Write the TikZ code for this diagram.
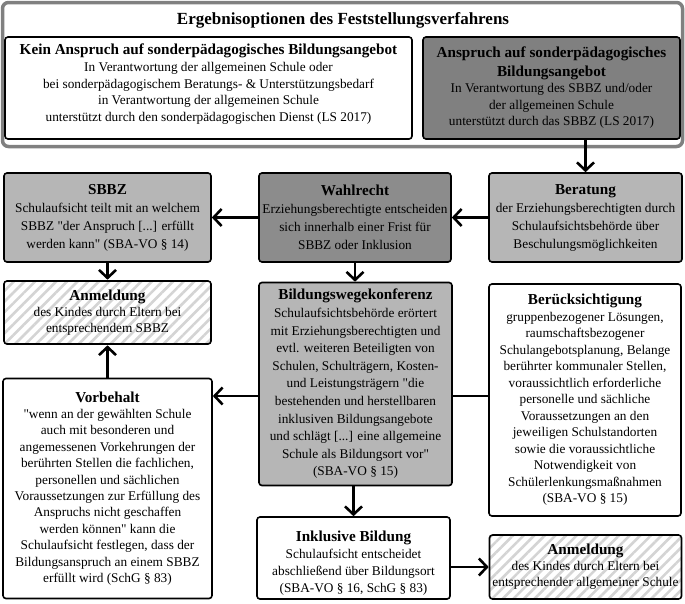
\documentclass[tikz,border=0pt]{standalone}
\usepackage{fontspec}
\setmainfont{Liberation Serif}
\usetikzlibrary{arrows.meta,patterns.meta}
\definecolor{dkfill}{RGB}{128,128,128}
\definecolor{mdfill}{RGB}{140,140,140}
\definecolor{ltfill}{RGB}{182,182,182}
\definecolor{frmcol}{RGB}{128,128,128}
\definecolor{hatchcol}{RGB}{212,212,212}
\newcommand\hdg[1]{{\fontsize{15.2}{18}\selectfont\bfseries #1}}
\newcommand\q{\textquotedbl}
\begin{document}
\begin{tikzpicture}[x=1pt,y=-1pt,
  box/.style={draw=black, line width=1.6pt, rounded corners=3pt, align=center,
    inner sep=1pt, minimum width=#1},
  sp/.style={font=\fontsize{13.3}{#1}\selectfont},
  hatched/.style={preaction={fill=white},
    pattern={Lines[angle=45,distance=7.5pt,line width=2.6pt]}, pattern color=hatchcol},
  arr/.style={line width=2.6pt, -{Straight Barb[length=8pt,width=17pt,line width=2.6pt]}},
  conn/.style={line width=2.6pt}
]
\useasboundingbox (0,0) rectangle (685,603);
% outer frame
\node[draw=frmcol, line width=3.5pt, rounded corners=6pt, minimum width=680pt,
  minimum height=144pt, inner sep=0pt] (frame) at (342.5,74.5) {};
\node[font=\fontsize{17}{20}\selectfont\bfseries] (title) at (343,20)
  {Ergebnisoptionen des Feststellungsverfahrens};
% top boxes
\node[box=407pt, minimum height=102pt, fill=white, sp=16.5] (topL) at (208.5,88)
  {\hdg{Kein Anspruch auf sonderpädagogisches Bildungsangebot}\\[1pt]
   In Verantwortung der allgemeinen Schule oder\\
   bei sonderpädagogischem Beratungs- \& Unterstützungsbedarf\\
   in Verantwortung der allgemeinen Schule\\
   unterstützt durch den sonderpädagogischen Dienst (LS 2017)\rule[-11pt]{0pt}{1pt}};
\node[box=257pt, minimum height=102pt, fill=dkfill, sp=16.5] (topR) at (551.5,88)
  {\hdg{Anspruch auf sonderpädagogisches}\\[2pt]
   \hdg{Bildungsangebot}\\
   In Verantwortung des SBBZ und/oder\\
   der allgemeinen Schule\\
   unterstützt durch das SBBZ (LS 2017)};
% row 2
\node[box=207pt, minimum height=89pt, fill=ltfill, sp=18] (sbbz) at (107.5,217.5)
  {\hdg{SBBZ}\\
   Schulaufsicht teilt mit an welchem\\
   SBBZ \q der Anspruch [...] erfüllt\\
   werden kann\q{} (SBA-VO § 14)};
\node[box=192pt, minimum height=89pt, fill=mdfill, sp=18] (wahl) at (355,217.5)
  {\hdg{Wahlrecht}\\
   Erziehungsberechtigte entscheiden\\
   sich innerhalb einer Frist für\\
   SBBZ oder Inklusion};
\node[box=193pt, minimum height=89pt, fill=ltfill, sp=18] (berat) at (585.5,217.5)
  {\hdg{Beratung}\\
   der Erziehungsberechtigten durch\\
   Schulaufsichtsbehörde über\\
   Beschulungsmöglichkeiten};
% left column
\node[box=207pt, minimum height=63pt, hatched, sp=16] (anmL) at (107.5,312.5)
  {\hdg{Anmeldung}\\
   des Kindes durch Eltern bei\\
   entsprechendem SBBZ};
\node[box=209pt, minimum height=220pt, fill=white, sp=16.4] (vorb) at (107.5,488.5)
  {\hdg{Vorbehalt}\\
   \q wenn an der gewählten Schule\\
   auch mit besonderen und\\
   angemessenen Vorkehrungen der\\
   berührten Stellen die fachlichen,\\
   personellen und sächlichen\\
   Voraussetzungen zur Erfüllung des\\
   Anspruchs nicht geschaffen\\
   werden können\q{} kann die\\
   Schulaufsicht festlegen, dass der\\
   Bildungsanspruch an einem SBBZ\\
   erfüllt wird (SchG § 83)};
% middle column
\node[box=193pt, minimum height=203pt, fill=ltfill, sp=17.6] (bwk) at (355.5,384)
  {\hdg{Bildungswegekonferenz}\\
   Schulaufsichtsbehörde erörtert\\
   mit Erziehungsberechtigten und\\
   evtl. weiteren Beteiligten von\\
   Schulen, Schulträgern, Kosten-\\
   und Leistungsträgern \q die\\
   bestehenden und herstellbaren\\
   inklusiven Bildungsangebote\\
   und schlägt [...] eine allgemeine\\
   Schule als Bildungsort vor\q\\
   (SBA-VO § 15)};
\node[box=193pt, minimum height=82pt, fill=white, sp=17] (inkl) at (353.5,558)
  {\hdg{\rule{0pt}{20pt}Inklusive Bildung}\\
   Schulaufsicht entscheidet\\
   abschließend über Bildungsort\\
   (SBA-VO § 16, SchG § 83)};
% right column
\node[box=192pt, minimum height=232pt, fill=white, sp=16.5] (beru) at (585,400)
  {\hdg{Berücksichtigung}\\
   gruppenbezogener Lösungen,\\
   raumschaftsbezogener\\
   Schulangebotsplanung, Belange\\
   berührter kommunaler Stellen,\\
   voraussichtlich erforderliche\\
   personelle und sächliche\\
   Voraussetzungen an den\\
   jeweiligen Schulstandorten\\
   sowie die voraussichtliche\\
   Notwendigkeit von\\
   Schülerlenkungsmaßnahmen\\
   (SBA-VO § 15)};
\node[box=192pt, minimum height=64pt, hatched, sp=16] (anmR) at (585.5,567)
  {\hdg{Anmeldung}\\
   des Kindes durch Eltern bei\\
   entsprechender allgemeiner Schule};
% connectors
\coordinate (j) at (0,396);
\draw[arr] (topR.south -| berat.north) -- (berat.north);
\draw[arr] (berat.west) -- (wahl.east);
\draw[arr] (wahl.west) -- (sbbz.east);
\draw[arr] (sbbz.south) -- (anmL.north);
\draw[arr] (wahl.south) -- (wahl.south |- bwk.north);
\draw[arr] (vorb.north) -- (anmL.south);
\draw[arr] (bwk.west |- j) -- (vorb.east |- j);
\draw[conn] (bwk.east |- j) -- (beru.west |- j);
\draw[arr] (bwk.south -| inkl.north) -- (inkl.north);
\draw[arr] (inkl.east |- anmR.west) -- (anmR.west);
\end{tikzpicture}
\end{document}
